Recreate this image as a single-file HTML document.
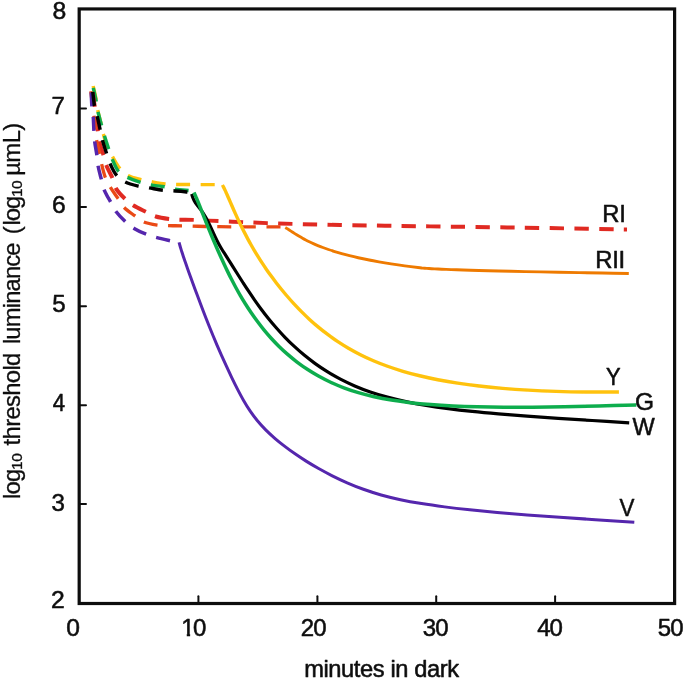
<!DOCTYPE html>
<html lang="en">
<head>
<meta charset="utf-8">
<title>Dark adaptation curves</title>
<style>
html,body{margin:0;padding:0;background:#fff;}
body{width:685px;height:681px;overflow:hidden;}
svg{display:block;}
text{font-family:"Liberation Sans",Arial,Helvetica,sans-serif;fill:#111;}
text{stroke:#111;stroke-width:0.55px;stroke-linejoin:round;}
.lab text{font-size:24px;}
</style>
</head>
<body>
<svg width="685" height="681" viewBox="0 0 685 681">
<defs><filter id="soft" x="0" y="0" width="685" height="681" filterUnits="userSpaceOnUse"><feGaussianBlur stdDeviation="0.45"/></filter></defs>
<rect x="0" y="0" width="685" height="681" fill="#ffffff"/>
<g filter="url(#soft)">
<g class="curves" stroke-linecap="butt" stroke-linejoin="round">
<path d="M93.20 86.00 C93.70 88.33 95.42 95.87 96.20 100.00 C96.98 104.13 97.05 106.70 97.90 110.80 C98.75 114.90 100.37 120.63 101.30 124.60 C102.23 128.57 102.45 130.70 103.50 134.60 C104.55 138.50 106.05 144.23 107.60 148.00 C109.15 151.77 110.82 153.87 112.80 157.20 C114.78 160.53 117.03 164.98 119.50 168.00 C121.97 171.02 124.00 173.35 127.60 175.30 C131.20 177.25 137.08 178.62 141.10 179.70 C145.12 180.78 147.68 181.08 151.70 181.80 C155.72 182.52 161.13 183.55 165.20 184.00 C169.27 184.45 171.93 184.40 176.10 184.50 C180.27 184.60 183.75 184.58 190.20 184.60 C196.65 184.62 210.70 184.60 214.80 184.60" fill="none" stroke="#ffc20a" stroke-width="3.45" stroke-dasharray="14 10.6" stroke-dashoffset="0"/>
<path d="M93.25 87.90 C93.76 90.18 95.49 97.55 96.30 101.60 C97.11 105.65 97.22 108.23 98.10 112.20 C98.98 116.17 100.52 121.40 101.60 125.40 C102.68 129.40 103.42 132.27 104.60 136.20 C105.78 140.13 107.42 145.15 108.70 149.00 C109.98 152.85 110.68 155.62 112.30 159.30 C113.92 162.98 115.90 168.10 118.40 171.10 C120.90 174.10 123.55 175.42 127.30 177.30 C131.05 179.18 136.93 181.12 140.90 182.40 C144.87 183.68 147.15 184.28 151.10 185.00 C155.05 185.72 160.57 185.98 164.60 186.70 C168.63 187.42 171.30 188.67 175.30 189.30 C179.30 189.93 186.38 190.30 188.60 190.50" fill="none" stroke="#10ad4e" stroke-width="3.45" stroke-dasharray="14 10.6" stroke-dashoffset="0"/>
<path d="M92.50 92.00 C92.88 94.47 94.22 102.63 94.80 106.80 C95.38 110.97 95.48 112.92 96.00 117.00 C96.52 121.08 97.33 127.08 97.90 131.30 C98.47 135.52 98.47 138.32 99.40 142.30 C100.33 146.28 102.30 151.25 103.50 155.20 C104.70 159.15 105.13 162.23 106.60 166.00 C108.07 169.77 110.67 173.95 112.30 177.80 C113.93 181.65 114.23 185.55 116.40 189.10 C118.57 192.65 122.45 196.37 125.30 199.10 C128.15 201.83 129.98 203.35 133.50 205.50 C137.02 207.65 142.68 210.17 146.40 212.00 C150.12 213.83 151.98 215.33 155.80 216.50 C159.62 217.67 165.20 218.47 169.30 219.00 C173.40 219.53 176.33 219.55 180.40 219.70 C184.47 219.85 187.28 219.67 193.70 219.90 C200.12 220.13 210.72 220.73 218.90 221.10 C227.08 221.47 234.73 221.77 242.80 222.10 C250.87 222.43 259.03 222.80 267.30 223.10 C275.57 223.40 280.28 223.58 292.40 223.90 C304.52 224.22 324.57 224.70 340.00 225.00 C355.43 225.30 370.00 225.47 385.00 225.70 C400.00 225.93 407.50 226.08 430.00 226.40 C452.50 226.72 487.17 227.08 520.00 227.60 C552.83 228.12 609.17 229.18 627.00 229.50" fill="none" stroke="#e02a22" stroke-width="3.95" stroke-dasharray="14.3 10.39" stroke-dashoffset="-0.5"/>
<path d="M90.80 91.30 C91.08 93.67 91.98 101.43 92.50 105.50 C93.02 109.57 93.40 111.70 93.90 115.70 C94.40 119.70 95.07 125.53 95.50 129.50 C95.93 133.47 95.82 135.58 96.50 139.50 C97.18 143.42 98.73 148.85 99.60 153.00 C100.47 157.15 100.78 160.43 101.70 164.40 C102.62 168.37 103.67 173.02 105.10 176.80 C106.53 180.58 108.22 183.58 110.30 187.10 C112.38 190.62 115.30 194.50 117.60 197.90 C119.90 201.30 121.25 204.53 124.10 207.50 C126.95 210.47 131.43 213.28 134.70 215.70 C137.97 218.12 139.93 220.43 143.70 222.00 C147.47 223.57 153.22 224.48 157.30 225.10 C161.38 225.72 164.17 225.58 168.20 225.70 C172.23 225.82 175.20 225.67 181.50 225.80 C187.80 225.93 197.83 226.33 206.00 226.50 C214.17 226.67 222.33 226.75 230.50 226.80 C238.67 226.85 246.65 226.80 255.00 226.80 C263.35 226.80 276.33 226.80 280.60 226.80" fill="none" stroke="#ea4a14" stroke-width="3.3" stroke-dasharray="14 10.6" stroke-dashoffset="0"/>
<path d="M91.20 92.30 C91.32 94.65 91.56 102.28 91.90 106.40 C92.24 110.52 92.92 112.95 93.25 117.00 C93.58 121.05 93.64 126.48 93.90 130.70 C94.16 134.92 94.32 138.30 94.80 142.30 C95.28 146.30 96.23 150.67 96.80 154.70 C97.37 158.73 97.45 162.43 98.20 166.50 C98.95 170.57 100.25 175.08 101.30 179.10 C102.35 183.12 102.95 186.78 104.50 190.60 C106.05 194.42 108.65 198.47 110.60 202.00 C112.55 205.53 113.75 208.53 116.20 211.80 C118.65 215.07 122.32 218.83 125.30 221.60 C128.28 224.37 130.58 226.28 134.10 228.40 C137.62 230.52 142.58 232.77 146.40 234.30 C150.22 235.83 152.98 236.52 157.00 237.60 C161.02 238.68 168.25 240.27 170.50 240.80" fill="none" stroke="#5426ad" stroke-width="3.5" stroke-dasharray="14 10.6" stroke-dashoffset="0"/>
<path d="M92.80 91.90 C93.07 94.17 93.67 101.47 94.40 105.50 C95.13 109.53 96.28 112.27 97.20 116.10 C98.12 119.93 99.02 124.47 99.90 128.50 C100.78 132.53 101.47 136.37 102.50 140.30 C103.53 144.23 104.82 148.17 106.10 152.10 C107.38 156.03 108.48 160.05 110.20 163.90 C111.92 167.75 113.95 172.22 116.40 175.20 C118.85 178.18 121.27 179.98 124.90 181.80 C128.53 183.62 134.17 185.08 138.20 186.10 C142.23 187.12 145.00 187.20 149.10 187.90 C153.20 188.60 158.77 189.82 162.80 190.30 C166.83 190.78 169.17 190.52 173.30 190.80 C177.43 191.08 185.22 191.80 187.60 192.00" fill="none" stroke="#000000" stroke-width="3.45" stroke-dasharray="14 10.6" stroke-dashoffset="0"/>
<path d="M285.30 227.60 C285.50 227.71 286.06 228.01 286.48 228.25 C286.89 228.49 287.33 228.76 287.79 229.05 C288.26 229.35 288.75 229.67 289.27 230.00 C289.78 230.34 290.33 230.71 290.91 231.09 C291.49 231.47 292.10 231.88 292.75 232.31 C293.40 232.73 294.08 233.18 294.80 233.64 C295.53 234.10 296.29 234.58 297.10 235.08 C297.91 235.58 298.76 236.09 299.67 236.62 C300.57 237.15 301.53 237.70 302.54 238.26 C303.55 238.82 304.61 239.39 305.75 239.98 C306.88 240.56 308.07 241.16 309.33 241.77 C310.60 242.38 311.92 243.00 313.34 243.62 C314.75 244.25 316.24 244.89 317.82 245.54 C319.40 246.18 321.06 246.84 322.83 247.50 C324.59 248.16 326.45 248.83 328.42 249.50 C330.40 250.17 332.47 250.85 334.68 251.53 C336.89 252.21 339.21 252.90 341.67 253.58 C344.14 254.27 346.73 254.96 349.49 255.64 C352.25 256.33 355.14 257.02 358.23 257.71 C361.31 258.40 364.55 259.09 368.00 259.77 C371.44 260.46 375.06 261.14 378.91 261.82 C382.77 262.50 386.81 263.17 391.11 263.84 C395.42 264.51 399.94 265.18 404.75 265.83 C409.57 266.49 417.23 267.43 420.00 267.78 C422.77 268.14 420.88 267.90 421.37 267.96 C421.86 268.01 422.38 268.06 422.93 268.11 C423.49 268.17 424.07 268.22 424.71 268.27 C425.34 268.32 426.01 268.37 426.72 268.42 C427.44 268.47 428.20 268.52 429.02 268.57 C429.84 268.63 430.70 268.68 431.63 268.73 C432.56 268.78 433.54 268.84 434.60 268.89 C435.65 268.94 436.77 269.00 437.97 269.05 C439.17 269.11 440.44 269.17 441.81 269.22 C443.17 269.28 444.62 269.34 446.17 269.40 C447.72 269.46 449.37 269.52 451.13 269.59 C452.90 269.65 454.77 269.72 456.78 269.79 C458.79 269.85 460.91 269.92 463.19 270.00 C465.48 270.07 467.89 270.14 470.49 270.22 C473.09 270.30 475.83 270.38 478.79 270.46 C481.75 270.54 484.87 270.62 488.23 270.71 C491.59 270.80 495.14 270.89 498.96 270.98 C502.78 271.08 506.82 271.17 511.17 271.27 C515.51 271.37 520.10 271.48 525.05 271.58 C529.99 271.69 535.21 271.80 540.83 271.92 C546.45 272.03 552.39 272.15 558.78 272.27 C565.17 272.40 571.92 272.52 579.19 272.65 C586.46 272.79 594.13 272.92 602.40 273.06 C610.67 273.20 624.40 273.42 628.80 273.50" fill="none" stroke="#ee7a00" stroke-width="2.9"/>
<path d="M179.00 242.30 C179.15 242.84 179.59 244.43 179.91 245.52 C180.23 246.62 180.56 247.72 180.91 248.84 C181.25 249.97 181.61 251.12 181.99 252.29 C182.37 253.47 182.76 254.68 183.18 255.92 C183.59 257.16 184.02 258.43 184.47 259.75 C184.92 261.07 185.39 262.43 185.88 263.84 C186.37 265.25 186.88 266.70 187.42 268.21 C187.96 269.73 188.52 271.29 189.10 272.92 C189.69 274.55 190.30 276.23 190.93 277.99 C191.57 279.75 192.24 281.57 192.93 283.47 C193.63 285.38 194.36 287.35 195.12 289.41 C195.88 291.46 196.67 293.60 197.50 295.82 C198.33 298.05 199.19 300.36 200.10 302.76 C201.00 305.17 201.95 307.66 202.93 310.23 C203.92 312.81 204.95 315.47 206.03 318.22 C207.11 320.97 208.23 323.81 209.41 326.74 C210.58 329.66 211.81 332.67 213.09 335.77 C214.38 338.87 215.71 342.05 217.11 345.32 C218.51 348.59 219.97 351.95 221.50 355.39 C223.03 358.83 224.62 362.36 226.29 365.97 C227.96 369.58 229.69 373.29 231.51 377.06 C233.33 380.84 235.23 384.76 237.21 388.62 C239.20 392.47 241.27 396.43 243.43 400.19 C245.60 403.96 247.86 407.71 250.22 411.18 C252.59 414.66 255.05 417.93 257.63 421.05 C260.21 424.17 262.89 427.05 265.71 429.88 C268.53 432.71 271.46 435.37 274.53 438.04 C277.61 440.71 280.80 443.30 284.16 445.89 C287.51 448.48 291.00 451.04 294.66 453.58 C298.32 456.12 302.12 458.64 306.12 461.13 C310.11 463.62 314.26 466.09 318.62 468.53 C322.98 470.98 327.51 473.42 332.27 475.80 C337.02 478.17 341.97 480.55 347.16 482.80 C352.35 485.05 357.74 487.25 363.40 489.28 C369.07 491.31 374.95 493.25 381.13 494.98 C387.31 496.72 393.73 498.27 400.48 499.70 C407.22 501.13 414.23 502.38 421.59 503.58 C428.95 504.78 436.59 505.84 444.62 506.88 C452.65 507.92 461.00 508.87 469.76 509.80 C478.52 510.73 487.63 511.59 497.19 512.44 C506.75 513.29 516.68 514.10 527.12 514.90 C537.55 515.71 548.39 516.49 559.78 517.29 C571.16 518.08 582.99 518.87 595.41 519.69 C607.83 520.51 627.82 521.78 634.30 522.20" fill="none" stroke="#5426ad" stroke-width="3.0"/>
<path d="M222.40 185.01 C222.55 185.27 222.97 186.00 223.28 186.57 C223.58 187.15 223.90 187.78 224.23 188.46 C224.57 189.14 224.91 189.87 225.27 190.65 C225.64 191.43 226.01 192.27 226.40 193.15 C226.80 194.03 227.21 194.96 227.64 195.94 C228.06 196.92 228.51 197.95 228.97 199.03 C229.44 200.11 229.92 201.23 230.43 202.40 C230.94 203.57 231.46 204.79 232.01 206.05 C232.56 207.31 233.14 208.62 233.74 209.97 C234.34 211.32 234.96 212.71 235.61 214.15 C236.26 215.59 236.94 217.07 237.65 218.59 C238.36 220.12 239.10 221.68 239.87 223.29 C240.64 224.90 241.44 226.54 242.28 228.23 C243.12 229.92 243.99 231.65 244.91 233.41 C245.82 235.18 246.77 236.98 247.76 238.83 C248.76 240.67 249.79 242.55 250.87 244.47 C251.95 246.39 253.07 248.34 254.25 250.33 C255.42 252.32 256.65 254.35 257.93 256.41 C259.20 258.47 260.53 260.56 261.92 262.69 C263.32 264.82 264.76 266.98 266.28 269.18 C267.79 271.37 269.36 273.60 271.01 275.86 C272.66 278.11 274.37 280.40 276.16 282.72 C277.95 285.04 279.81 287.40 281.76 289.78 C283.71 292.16 285.73 294.57 287.85 297.00 C289.97 299.44 292.17 301.91 294.48 304.39 C296.79 306.87 299.18 309.39 301.69 311.89 C304.20 314.39 306.81 316.92 309.54 319.42 C312.27 321.92 315.10 324.42 318.07 326.89 C321.04 329.36 324.12 331.82 327.35 334.23 C330.58 336.65 333.94 339.04 337.45 341.37 C340.96 343.70 344.61 345.99 348.44 348.21 C352.26 350.43 356.23 352.61 360.39 354.69 C364.55 356.78 368.86 358.80 373.39 360.72 C377.91 362.65 382.61 364.50 387.53 366.25 C392.45 368.01 397.56 369.68 402.92 371.26 C408.27 372.85 413.83 374.35 419.65 375.75 C425.48 377.16 431.53 378.48 437.86 379.71 C444.20 380.94 450.78 382.09 457.67 383.14 C464.56 384.19 471.72 385.15 479.22 386.02 C486.71 386.89 494.50 387.67 502.66 388.35 C510.81 389.04 519.28 389.63 528.16 390.13 C537.03 390.63 546.24 391.04 555.90 391.35 C565.55 391.66 575.57 391.88 586.07 392.00 C596.57 392.12 613.43 392.06 618.90 392.07" fill="none" stroke="#ffc20a" stroke-width="3.4"/>
<path d="M191.70 193.95 C191.85 194.45 192.29 196.04 192.60 196.95 C192.92 197.87 193.24 198.67 193.59 199.44 C193.93 200.20 194.28 200.88 194.66 201.53 C195.03 202.19 195.42 202.79 195.83 203.38 C196.24 203.98 196.66 204.54 197.10 205.12 C197.55 205.70 198.01 206.26 198.49 206.87 C198.98 207.48 199.48 208.10 200.01 208.79 C200.54 209.47 201.08 210.18 201.66 210.99 C202.23 211.79 202.83 212.65 203.46 213.62 C204.09 214.59 204.74 215.63 205.42 216.81 C206.11 217.99 206.82 219.26 207.56 220.70 C208.31 222.13 209.08 223.71 209.90 225.42 C210.71 227.12 211.56 229.03 212.44 230.95 C213.33 232.86 214.25 234.92 215.22 236.92 C216.18 238.92 217.19 240.97 218.24 242.93 C219.29 244.89 220.39 246.78 221.54 248.70 C222.69 250.62 223.88 252.48 225.13 254.46 C226.38 256.43 227.69 258.41 229.05 260.55 C230.42 262.69 231.83 264.94 233.32 267.30 C234.81 269.67 236.36 272.16 237.98 274.74 C239.60 277.31 241.29 280.00 243.06 282.75 C244.83 285.49 246.67 288.34 248.60 291.23 C250.52 294.12 252.53 297.08 254.63 300.08 C256.73 303.07 258.92 306.13 261.21 309.19 C263.50 312.26 265.89 315.37 268.39 318.47 C270.89 321.57 273.48 324.69 276.21 327.79 C278.93 330.90 281.76 334.01 284.74 337.07 C287.71 340.14 290.79 343.20 294.03 346.20 C297.27 349.20 300.64 352.17 304.17 355.07 C307.70 357.97 311.37 360.82 315.22 363.58 C319.07 366.34 323.07 369.04 327.27 371.63 C331.46 374.22 335.82 376.73 340.40 379.11 C344.98 381.49 349.73 383.78 354.72 385.92 C359.71 388.06 364.89 390.08 370.33 391.96 C375.77 393.83 381.42 395.55 387.35 397.15 C393.28 398.75 399.44 400.21 405.91 401.57 C412.37 402.94 419.09 404.18 426.14 405.35 C433.18 406.51 440.51 407.57 448.19 408.57 C455.88 409.58 463.86 410.49 472.24 411.37 C480.61 412.25 489.32 413.05 498.45 413.85 C507.59 414.64 517.08 415.38 527.03 416.12 C536.99 416.86 547.34 417.57 558.19 418.29 C569.05 419.02 580.33 419.73 592.16 420.49 C604.00 421.24 623.03 422.42 629.20 422.81" fill="none" stroke="#000000" stroke-width="3.2"/>
<path d="M193.95 192.50 C194.10 192.82 194.54 193.73 194.85 194.42 C195.17 195.11 195.50 195.85 195.84 196.64 C196.19 197.43 196.54 198.28 196.92 199.17 C197.29 200.07 197.68 201.03 198.09 202.03 C198.50 203.04 198.93 204.10 199.37 205.22 C199.82 206.33 200.28 207.51 200.77 208.74 C201.25 209.96 201.76 211.25 202.29 212.59 C202.82 213.94 203.37 215.34 203.95 216.80 C204.53 218.26 205.13 219.78 205.76 221.36 C206.39 222.94 207.04 224.58 207.73 226.28 C208.42 227.98 209.13 229.74 209.88 231.57 C210.63 233.39 211.41 235.28 212.23 237.23 C213.05 239.18 213.90 241.19 214.79 243.27 C215.68 245.35 216.61 247.49 217.58 249.70 C218.55 251.91 219.56 254.18 220.62 256.52 C221.69 258.86 222.79 261.27 223.94 263.74 C225.10 266.22 226.30 268.77 227.56 271.36 C228.82 273.95 230.13 276.61 231.51 279.30 C232.88 281.98 234.31 284.72 235.81 287.47 C237.31 290.22 238.87 293.00 240.51 295.80 C242.14 298.59 243.84 301.40 245.63 304.23 C247.41 307.05 249.26 309.90 251.21 312.74 C253.15 315.58 255.17 318.44 257.29 321.28 C259.41 324.13 261.62 326.98 263.93 329.80 C266.24 332.61 268.65 335.43 271.17 338.20 C273.69 340.97 276.31 343.72 279.06 346.42 C281.81 349.12 284.67 351.79 287.67 354.39 C290.67 356.99 293.79 359.55 297.06 362.03 C300.33 364.50 303.72 366.93 307.29 369.26 C310.86 371.59 314.56 373.85 318.45 376.01 C322.34 378.17 326.38 380.25 330.63 382.22 C334.87 384.18 339.27 386.05 343.90 387.80 C348.52 389.54 353.33 391.18 358.37 392.67 C363.42 394.17 368.66 395.54 374.16 396.78 C379.66 398.01 385.37 399.10 391.37 400.08 C397.37 401.06 403.60 401.90 410.14 402.65 C416.68 403.40 423.48 404.02 430.61 404.56 C437.74 405.11 445.16 405.54 452.93 405.90 C460.71 406.27 468.80 406.54 477.28 406.75 C485.76 406.96 494.57 407.09 503.82 407.17 C513.07 407.24 522.68 407.25 532.77 407.19 C542.86 407.13 553.34 407.00 564.34 406.81 C575.34 406.62 586.77 406.37 598.76 406.05 C610.75 405.73 630.04 405.09 636.30 404.90" fill="none" stroke="#10ad4e" stroke-width="3.5"/>
</g>
<rect x="79.2" y="8.95" width="595.40" height="594.55" fill="none" stroke="#111" stroke-width="3.2"/>
<g stroke="#111" stroke-width="2" stroke-linecap="round">
<line x1="198.40" y1="603.50" x2="198.40" y2="596.30"/>
<line x1="317.40" y1="603.50" x2="317.40" y2="596.30"/>
<line x1="436.20" y1="603.50" x2="436.20" y2="596.30"/>
<line x1="555.10" y1="603.50" x2="555.10" y2="596.30"/>
<line x1="79.20" y1="108.40" x2="86.00" y2="108.40"/>
<line x1="79.20" y1="207.00" x2="86.00" y2="207.00"/>
<line x1="79.20" y1="306.20" x2="86.00" y2="306.20"/>
<line x1="79.20" y1="405.20" x2="86.00" y2="405.20"/>
<line x1="79.20" y1="503.90" x2="86.00" y2="503.90"/>
</g>
<g class="lab">
<text transform="translate(602.25 222.30)" style="font-size:23.8px;letter-spacing:-0.100px">RI</text>
<text transform="translate(595.35 267.50)" style="font-size:23.8px;letter-spacing:-0.375px">RII</text>
<text transform="translate(605.97 384.55) scale(0.9213 1)" style="font-size:23.8px">Y</text>
<text transform="translate(634.88 409.50) scale(1.0300 1)" style="font-size:23.8px">G</text>
<text transform="translate(632.60 435.05) scale(0.9912 1)" style="font-size:23.8px">W</text>
<text transform="translate(619.54 516.15) scale(0.9415 1)" style="font-size:23.8px">V</text>
<text transform="translate(304.15 677.35)" style="font-size:23.7px;letter-spacing:-0.407px">minutes in dark</text>
<text transform="translate(66.33 635.70) scale(1.0250 1)" style="font-size:24.0px">0</text>
<text transform="translate(181.30 635.70)" style="font-size:24.0px;letter-spacing:-1.600px">10</text>
<text transform="translate(300.70 635.70)" style="font-size:24.0px;letter-spacing:-0.750px">20</text>
<text transform="translate(422.85 635.70)" style="font-size:24.0px;letter-spacing:-0.850px">30</text>
<text transform="translate(537.35 635.70)" style="font-size:24.0px;letter-spacing:-1.250px">40</text>
<text transform="translate(657.75 635.70)" style="font-size:24.0px;letter-spacing:-0.750px">50</text>
<text transform="translate(52.43 19.30) scale(1.0300 1)" style="font-size:24.0px">8</text>
<text transform="translate(51.40 114.35)" style="font-size:24.0px">7</text>
<text transform="translate(51.97 212.90) scale(1.0261 1)" style="font-size:24.0px">6</text>
<text transform="translate(52.25 312.10) scale(1.0043 1)" style="font-size:24.0px">5</text>
<text transform="translate(52.77 411.15) scale(0.9255 1)" style="font-size:24.0px">4</text>
<text transform="translate(51.55 510.90) scale(1.0043 1)" style="font-size:24.0px">3</text>
<text transform="translate(51.05 607.95) scale(1.0300 1)" style="font-size:24.0px">2</text>
<text transform="translate(19.80 499.05) rotate(-90)" style="font-size:23.8px;stroke-width:0.3px;letter-spacing:-0.725px">log</text>
<text transform="translate(21.90 469.90) rotate(-90)" style="font-size:15.5px;stroke-width:0.3px;letter-spacing:-0.500px">10</text>
<text transform="translate(19.80 445.40) rotate(-90)" style="font-size:23.8px;stroke-width:0.3px;letter-spacing:-0.644px">threshold</text>
<text transform="translate(19.80 344.05) rotate(-90)" style="font-size:23.8px;stroke-width:0.3px;letter-spacing:-0.862px">luminance</text>
<text transform="translate(19.80 234.27) rotate(-90)" style="font-size:23.8px;stroke-width:0.3px">(</text>
<text transform="translate(19.80 225.55) rotate(-90)" style="font-size:23.8px;stroke-width:0.3px;letter-spacing:-0.975px">log</text>
<text transform="translate(21.90 197.10) rotate(-90)" style="font-size:15.5px;stroke-width:0.3px;letter-spacing:-0.500px">10</text>
<text transform="translate(19.80 175.85) rotate(-90)" style="font-size:23.8px;stroke-width:0.3px;letter-spacing:-0.517px">µmL)</text>
</g>
<rect x="180.3" y="632.3" width="6.45" height="5.2" fill="#fff"/>
<rect x="190.15" y="632.3" width="4.1" height="5.2" fill="#fff"/>
</g>
</svg>
</body>
</html>
